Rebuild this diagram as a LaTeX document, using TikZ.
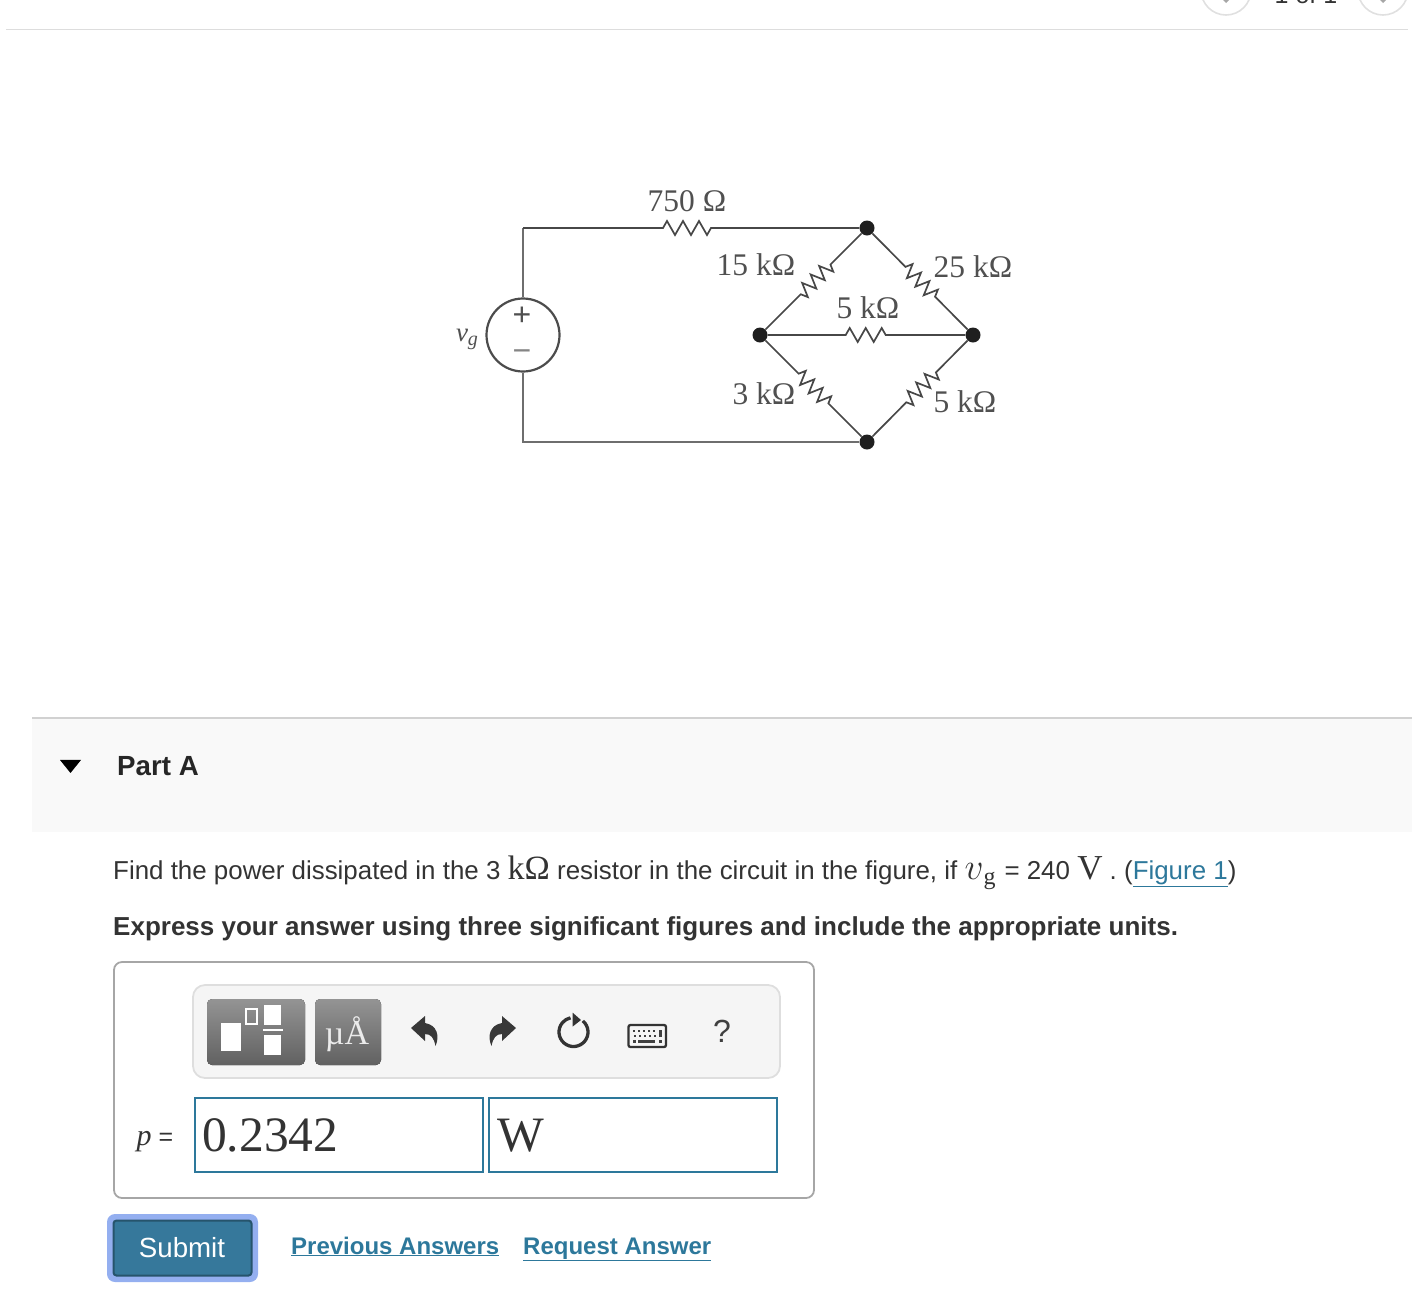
\documentclass[tikz,border=0pt]{standalone}
\usepackage{fontspec}
\setmainfont{Liberation Sans}
\newfontfamily\serifface{Liberation Serif}
\usetikzlibrary{arrows.meta, positioning, decorations.pathmorphing, shapes.geometric}
\definecolor{mywire}{RGB}{110,110,110}
\definecolor{mylabel}{RGB}{80,80,80}
\definecolor{mytext}{RGB}{51,51,51}
\definecolor{mylink}{RGB}{45,120,155}
\definecolor{myrule}{RGB}{221,221,221}
\definecolor{mybtn}{RGB}{54,120,155}
\definecolor{myfocus}{RGB}{148,175,240}
\newcommand{\fs}[1]{\fontsize{#1}{#1}\selectfont}
\tikzset{
    wire/.style={draw=mywire,line width=1.9pt},
    res/.style n args={3}{draw=black!72,line width=1.7pt,decorate,decoration={zigzag,amplitude=#3,segment length=48pt/3,pre length=#1,post length=#2}},
    resdiag/.style 2 args={draw=black!72,line width=1.7pt,decorate,decoration={zigzag,amplitude=7,segment length=12pt,pre length=#1,post length=#2}},
    dot/.style={circle,fill=black!88,inner sep=0pt,minimum size=15pt},
    value/.style={text=mylabel,font=\fs{31.5}\serifface,inner sep=0pt},
    inbox/.style={draw=mylink,line width=1.8pt,fill=white,minimum height=74pt,minimum width=288pt,inner sep=0pt},
    icon/.style={rounded corners=5pt,top color=black!42,bottom color=black!62,draw=none},
    link/.style={text=mylink,font=\fs{24}\bfseries,inner sep=0pt,anchor=base west},
    pics/undoarrow/.style={code={
        \fill[black!78] (0,0) -- (14,-12) -- (14,-5) .. controls (26,-3) and (29,8) .. (24.5,18)
            .. controls (23,10) and (20,6) .. (14,6) -- (14,13) -- cycle;
    }},
}
\begin{document}
\begin{tikzpicture}[x=1pt,y=-1pt]
    \useasboundingbox (0,0) rectangle (1412,1296);
    \clip (0,0) rectangle (1412,1296);
    % top bar
    \draw[myrule,line width=1.8pt] (6,29.5) -- (1408,29.5);
    \foreach \cx in {1226,1383} {
        \draw[black!12,line width=1.6pt] (\cx,-10) circle[radius=25pt];
        \fill[black!35] (\cx-3,0) -- (\cx+3,0) -- (\cx,3) -- cycle;
    }
    \node[anchor=base,text=mytext,font=\fs{25},inner sep=0pt] (pager) at (1306,3) {1 of 1};
    % circuit
    \node[circle,draw=black!70,line width=2.2pt,fill=white,minimum size=73pt,inner sep=0pt] (vg) at (523,335) {};
    \coordinate (cornertop) at (523,228);
    \coordinate (cornerbot) at (523,442);
    \node[dot] (ntop) at (867,228) {};
    \node[dot] (nleft) at (760,335) {};
    \node[dot] (nright) at (973,335) {};
    \node[dot] (nbot) at (867,442) {};
    \draw[wire] (vg.north) -- (cornertop);
    \draw[wire] (vg.south) -- (cornerbot) -- (nbot);
    \draw[res={140pt}{148pt}{7}] (cornertop) -- (ntop);
    \draw[res={78pt}{73pt}{7}] (nleft) -- (nright);
    \draw[resdiag={44pt}{45pt}] (ntop) -- (nleft);
    \draw[resdiag={47pt}{42pt}] (ntop) -- (nright);
    \draw[resdiag={47pt}{42pt}] (nleft) -- (nbot);
    \draw[resdiag={45pt}{44pt}] (nright) -- (nbot);
    \node[text=mylabel,font=\fs{32},inner sep=0pt] (vgplus) at (522,316) {+};
    \node[text=mylabel!70,font=\fs{32},inner sep=0pt] (vgminus) at (522,356) {\textminus};
    \node[text=mylabel,font=\fs{27}\serifface\itshape,inner sep=0pt] (vglabel) at (467,339) {v\raisebox{-4pt}{\fs{20}g}};
    \node[value] (l750) at (687,201) {750 Ω};
    \node[value] (l15) at (756,265) {15 kΩ};
    \node[value] (l25) at (973,267) {25 kΩ};
    \node[value] (l5m) at (868,308) {5 kΩ};
    \node[value] (l3) at (764,394) {3 kΩ};
    \node[value] (l5b) at (965,402) {5 kΩ};
    % part header
    \fill[black!2.5] (32,718) rectangle (1412,832);
    \draw[black!18,line width=1.5pt] (32,718) -- (1412,718);
    \node[isosceles triangle,shape border rotate=-90,isosceles triangle stretches,fill=black,minimum width=21pt,minimum height=13pt,inner sep=0pt] (parttri) at (70.5,765) {};
    \node[anchor=base west,text=black!85,font=\fs{27.7}\bfseries,inner sep=0pt] (parta) at (117,775) {Part A};
    % question
    \node[anchor=base west,text=mytext,font=\fs{25.9},inner sep=0pt] (findtext) at (113,879.5)
        {Find the power dissipated in the 3 {\serifface\fs{34}kΩ} resistor in the circuit in the figure, if \scalebox{1.5}{$v$}\raisebox{-5pt}{\serifface\fs{24}g}\hspace{9pt}= 240 {\serifface\fs{35}V} . ({\color{mylink}\underline{Figure 1}})};
    \node[anchor=base west,text=mytext,font=\fs{26}\bfseries,inner sep=0pt] (hinttext) at (113,935.5)
        {Express your answer using three significant figures and include the appropriate units.};
    % answer box
    \draw[black!35,line width=1.8pt,rounded corners=8pt] (114,962) rectangle (814,1198);
    \draw[black!13,line width=1.8pt,fill=black!4,rounded corners=12pt] (193,985) rectangle (780,1078);
    \fill[icon] (207,999) rectangle (305,1065);
    \fill[icon] (315,999) rectangle (381,1065);
    \fill[white] (221,1023) rectangle (241,1051);
    \draw[white,line width=1.2pt] (246,1009) rectangle (257,1024);
    \fill[white] (264,1005) rectangle (281,1025);
    \fill[white] (263,1029) rectangle (283,1031);
    \fill[white] (264,1035) rectangle (281,1055);
    \node[text=black!8,font=\fs{34}\serifface,inner sep=0pt] (muA) at (347,1034) {µÅ};
    \pic at (411,1028) {undoarrow};
    \pic[xscale=-1] at (516,1028) {undoarrow};
    \draw[black!80,line width=3.3pt] (573.5,1032) ++(50:14.5pt) arc[start angle=50,end angle=-258,radius=14.5pt];
    \fill[black!80] (572.7,1012.7) -- (581,1020) -- (572.7,1026.5) -- cycle;
    \draw[black!80,line width=2.3pt,fill=black!4,rounded corners=2pt] (628.5,1025) rectangle (666,1047);
    \foreach \kx in {634,639,...,654} {
        \fill[black!75] (\kx-1.3,1029.5) rectangle (\kx+1.3,1032);
        \fill[black!75] (\kx+1-1.3,1034.8) rectangle (\kx+1+1.3,1037.3);
    }
    \fill[black!75] (659,1029.5) rectangle (661.5,1037.3);
    \fill[black!75] (633,1040) rectangle (635.5,1042.5);
    \fill[black!75] (638,1040) rectangle (655,1042.5);
    \fill[black!75] (659,1040) rectangle (661.5,1042.5);
    \node[text=black!75,font=\fs{32},inner sep=0pt] (helpmark) at (722,1031) {?};
    % inputs
    \node[anchor=base,text=mytext,font=\fs{25},inner sep=0pt] (plabel) at (155,1145) {{\serifface\itshape\fs{30}p} =};
    \node[inbox] (valbox) at (339,1135) {};
    \node[inbox] (unitbox) at (633,1135) {};
    \node[anchor=base west,text=mytext,font=\fs{49.5}\serifface,inner sep=0pt] (valtext) at (202,1151) {0.2342};
    \node[anchor=base west,text=mytext,font=\fs{49.5}\serifface,inner sep=0pt] (unittext) at (497,1151) {W};
    % buttons
    \fill[myfocus,rounded corners=8pt] (107,1214) rectangle (258,1282);
    \draw[draw=mybtn!70!black,line width=2pt,fill=mybtn,rounded corners=3pt] (113.5,1220.5) rectangle (251.5,1275.5);
    \node[text=white,font=\fs{27.7},inner sep=0pt] (submit) at (182,1248) {Submit};
    \node[link] (prevans) at (291,1254) {\underline{Previous Answers}};
    \node[link] (reqans) at (523,1254) {\underline{Request Answer}};
\end{tikzpicture}
\end{document}
